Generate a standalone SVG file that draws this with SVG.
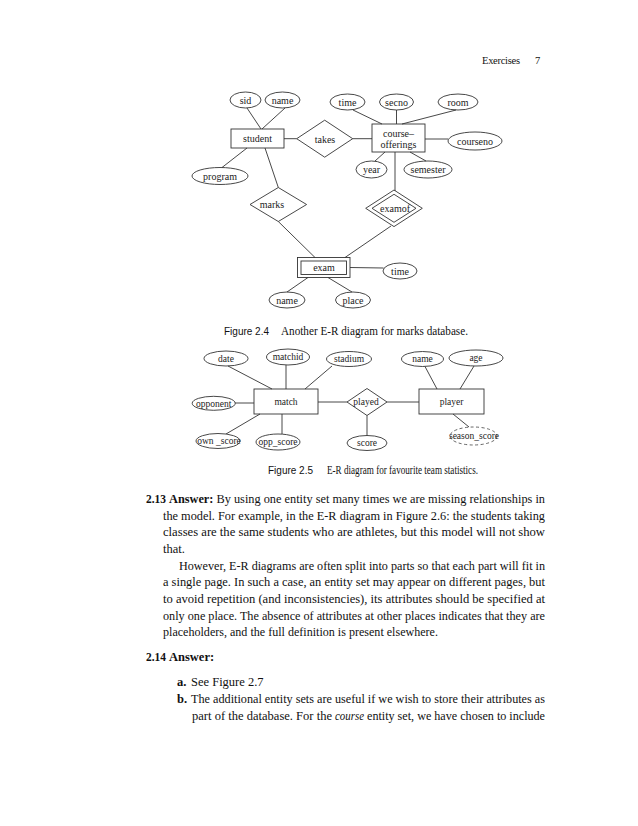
<svg xmlns="http://www.w3.org/2000/svg" width="638" height="826" viewBox="0 0 638 826">
<style>
.bg{fill:#fff}
.sh{fill:none;stroke:#333;stroke-width:0.9}
.dash{fill:none;stroke:#555;stroke-width:0.9;stroke-dasharray:3 2.5}
.ln{stroke:#333;stroke-width:0.9;fill:none}
.lb{font-family:"Liberation Serif","Times New Roman",serif;font-size:10px;fill:#222;text-anchor:middle}
.lb2{font-family:"Liberation Serif","Times New Roman",serif;font-size:9.5px;fill:#222;text-anchor:middle}
.cap{font-family:"Liberation Sans",Arial,sans-serif;font-size:10px;fill:#111}
.capt{font-family:"Liberation Serif","Times New Roman",serif;font-size:11.5px;fill:#111}
.hd{font-family:"Liberation Serif","Times New Roman",serif;font-size:10.5px;fill:#111}
.bt{font-family:"Liberation Serif","Times New Roman",serif;font-size:12.5px;fill:#111}
.b{font-weight:bold}
</style>
<rect class="bg" x="0" y="0" width="638" height="826"/>
<text class="hd" x="482" y="64" textLength="38">Exercises</text>
<text class="hd" x="535" y="64">7</text>

<g id="connectors">
<line class="ln" x1="247" y1="108" x2="261" y2="129"/>
<line class="ln" x1="285" y1="108" x2="262" y2="129"/>
<line class="ln" x1="284" y1="138.7" x2="296.7" y2="138.7"/>
<line class="ln" x1="352.7" y1="138.7" x2="372" y2="138.7"/>
<line class="ln" x1="247" y1="148" x2="222" y2="167.5"/>
<line class="ln" x1="265" y1="148" x2="278.3" y2="187.5"/>
<line class="ln" x1="353" y1="110" x2="382" y2="124"/>
<line class="ln" x1="396.5" y1="110" x2="396.5" y2="124"/>
<line class="ln" x1="456" y1="110" x2="402" y2="124"/>
<line class="ln" x1="425" y1="139" x2="448" y2="139"/>
<line class="ln" x1="385" y1="152" x2="375" y2="161"/>
<line class="ln" x1="410" y1="152" x2="426" y2="161"/>
<line class="ln" x1="395" y1="152" x2="395" y2="191"/>
<line class="ln" x1="278.3" y1="221.5" x2="315" y2="257.5"/>
<line class="ln" x1="391" y1="226" x2="345" y2="257.5"/>
<line class="ln" x1="350" y1="267.5" x2="383.5" y2="268"/>
<line class="ln" x1="308" y1="277.5" x2="287" y2="292"/>
<line class="ln" x1="328" y1="277.5" x2="352" y2="292"/>

<line class="ln" x1="228" y1="366" x2="272" y2="389"/>
<line class="ln" x1="286" y1="365" x2="286" y2="389"/>
<line class="ln" x1="332" y1="366" x2="305" y2="389"/>
<line class="ln" x1="235" y1="403" x2="254" y2="403"/>
<line class="ln" x1="226" y1="434" x2="260" y2="414"/>
<line class="ln" x1="282" y1="414" x2="282" y2="434"/>
<line class="ln" x1="318" y1="402" x2="347" y2="402"/>
<line class="ln" x1="387" y1="402" x2="419" y2="402"/>
<line class="ln" x1="367" y1="415.5" x2="367" y2="435.5"/>
<line class="ln" x1="425" y1="366.5" x2="437" y2="389"/>
<line class="ln" x1="474" y1="366" x2="460" y2="389"/>
<line class="ln" x1="453" y1="414" x2="469" y2="427"/>
</g>

<!-- Figure 2.4 -->
<g id="sid"><ellipse class="sh" cx="245.5" cy="100" rx="15.5" ry="8"/><text class="lb" x="245.5" y="103.5">sid</text></g>
<g id="student_name"><ellipse class="sh" cx="282.5" cy="100" rx="17.5" ry="8"/><text class="lb" x="282.5" y="103.5">name</text></g>
<g id="co_time"><ellipse class="sh" cx="347.5" cy="102" rx="17.5" ry="8"/><text class="lb" x="347.5" y="105.5">time</text></g>
<g id="secno"><ellipse class="sh" cx="396.5" cy="102" rx="17" ry="8"/><text class="lb" x="396.5" y="105.5">secno</text></g>
<g id="room"><ellipse class="sh" cx="458" cy="102" rx="20" ry="8"/><text class="lb" x="458" y="105.5">room</text></g>
<g id="student"><rect class="sh" x="231" y="129" width="53" height="19"/><text class="lb" x="257.5" y="142">student</text></g>
<g id="takes"><polygon class="sh" points="296.7,138.7 324.7,120.2 352.7,138.7 324.7,157.2"/><text class="lb" x="325" y="142.5">takes</text></g>
<g id="course_offerings"><rect class="sh" x="372" y="124" width="53" height="28"/><text class="lb" x="398.5" y="136.5">course–</text><text class="lb" x="398.5" y="148">offerings</text></g>
<g id="courseno"><ellipse class="sh" cx="475" cy="141" rx="27" ry="9"/><text class="lb" x="475" y="144.5">courseno</text></g>
<g id="program"><ellipse class="sh" cx="220" cy="176" rx="28" ry="8.5"/><text class="lb" x="220" y="179.5">program</text></g>
<g id="year"><ellipse class="sh" cx="371.5" cy="169.5" rx="15.5" ry="8.5"/><text class="lb" x="371.5" y="173">year</text></g>
<g id="semester"><ellipse class="sh" cx="428" cy="169.5" rx="24" ry="8.5"/><text class="lb" x="428" y="173">semester</text></g>
<g id="marks"><polygon class="sh" points="250,204.5 278.3,187.5 306.6,204.5 278.3,221.5"/><text class="lb" x="272" y="207.5">marks</text></g>
<g id="examof"><polygon class="sh" points="365.7,208.3 394,190 422.3,208.3 394,226.6"/><polygon class="sh" points="372,208.3 394,194.3 416,208.3 394,222.3"/><text class="lb" x="395" y="211.5">examof</text></g>
<g id="exam"><rect class="sh" x="297.5" y="257.5" width="52.5" height="20"/><rect class="sh" x="301" y="261" width="45.5" height="13.5"/><text class="lb" x="324" y="271">exam</text></g>
<g id="exam_time"><ellipse class="sh" cx="400" cy="271" rx="17" ry="8"/><text class="lb" x="400" y="274.5">time</text></g>
<g id="exam_name"><ellipse class="sh" cx="287" cy="300" rx="18" ry="8"/><text class="lb" x="287" y="303.5">name</text></g>
<g id="place"><ellipse class="sh" cx="353" cy="300" rx="17.5" ry="8"/><text class="lb" x="353" y="303.5">place</text></g>

<text class="cap" x="224" y="334.5">Figure 2.4</text>
<text class="capt" x="281" y="334.5" textLength="187" lengthAdjust="spacingAndGlyphs">Another E-R diagram for marks database.</text>

<!-- Figure 2.5 -->
<g id="date"><ellipse class="sh" cx="226" cy="358.5" rx="22" ry="7.5"/><text class="lb2" x="226" y="361.8">date</text></g>
<g id="matchid"><ellipse class="sh" cx="288" cy="357" rx="21.5" ry="8"/><text class="lb2" x="288" y="360.3">matchid</text></g>
<g id="stadium"><ellipse class="sh" cx="349" cy="359" rx="22.5" ry="7.5"/><text class="lb2" x="349" y="362.3">stadium</text></g>
<g id="player_name"><ellipse class="sh" cx="422.5" cy="359" rx="21" ry="7.5"/><text class="lb2" x="422.5" y="362.3">name</text></g>
<g id="age"><ellipse class="sh" cx="476" cy="358" rx="27" ry="8"/><text class="lb2" x="476" y="361.3">age</text></g>
<g id="match"><rect class="sh" x="254" y="389" width="64" height="25"/><text class="lb2" x="286" y="405">match</text></g>
<g id="played"><polygon class="sh" points="347,402 367,388.5 387,402 367,415.5"/><text class="lb2" x="366" y="405">played</text></g>
<g id="player"><rect class="sh" x="419" y="389" width="65" height="25"/><text class="lb2" x="451.5" y="405">player</text></g>
<g id="opponent"><ellipse class="sh" cx="213.7" cy="403.3" rx="21.5" ry="7"/><text class="lb2" x="213.7" y="406.6">opponent</text></g>
<g id="own_score"><ellipse class="sh" cx="218" cy="441" rx="22" ry="7.5"/><text class="lb2" x="219" y="444.3">own _score</text></g>
<g id="opp_score"><ellipse class="sh" cx="278" cy="442" rx="22" ry="8"/><text class="lb2" x="278" y="445.3">opp_score</text></g>
<g id="score"><ellipse class="sh" cx="367" cy="443" rx="20" ry="7.5"/><text class="lb2" x="367" y="446.3">score</text></g>
<g id="season_score"><ellipse class="dash" cx="473.5" cy="436" rx="23.5" ry="9"/><text class="lb2" x="474" y="439.3">season_score</text></g>

<text class="cap" x="268" y="474">Figure 2.5</text>
<text class="capt" x="327" y="474" textLength="151" lengthAdjust="spacingAndGlyphs">E-R diagram for favourite team statistics.</text>

<!-- Body text -->
<g id="body">
<text class="bt b" x="146" y="503" textLength="20" lengthAdjust="spacingAndGlyphs">2.13</text>
<text class="bt" x="169" y="503" textLength="376" lengthAdjust="spacingAndGlyphs"><tspan class="b">Answer:</tspan> By using one entity set many times we are missing relationships in</text>
<text class="bt" x="163" y="520" textLength="382" lengthAdjust="spacingAndGlyphs">the model. For example, in the E-R diagram in Figure  2.6: the students taking</text>
<text class="bt" x="163" y="536" textLength="382" lengthAdjust="spacingAndGlyphs">classes are the same students who are athletes, but this model will not show</text>
<text class="bt" x="163" y="553">that.</text>
<text class="bt" x="179" y="570" textLength="366" lengthAdjust="spacingAndGlyphs">However, E-R diagrams are often split into parts so that each part will fit in</text>
<text class="bt" x="163" y="586" textLength="382" lengthAdjust="spacingAndGlyphs">a single page. In such a case, an entity set may appear on different pages, but</text>
<text class="bt" x="163" y="603" textLength="382" lengthAdjust="spacingAndGlyphs">to avoid repetition (and inconsistencies), its attributes should be specified at</text>
<text class="bt" x="163" y="620" textLength="382" lengthAdjust="spacingAndGlyphs">only one place. The absence of attributes at other places indicates that they are</text>
<text class="bt" x="163" y="636" textLength="275" lengthAdjust="spacingAndGlyphs">placeholders, and the full definition is present elsewhere.</text>
<text class="bt b" x="146" y="661" textLength="20" lengthAdjust="spacingAndGlyphs">2.14</text>
<text class="bt b" x="169" y="661">Answer:</text>
<text class="bt b" x="177" y="686">a.</text>
<text class="bt" x="191" y="686">See Figure  2.7</text>
<text class="bt b" x="177" y="703">b.</text>
<text class="bt" x="191" y="703" textLength="354" lengthAdjust="spacingAndGlyphs">The additional entity sets are useful if we wish to store their attributes as</text>
<text class="bt" x="192" y="720" textLength="140" lengthAdjust="spacingAndGlyphs">part of the database. For the</text>
<text class="bt" x="335" y="720" font-style="italic" textLength="29" lengthAdjust="spacingAndGlyphs">course</text>
<text class="bt" x="367" y="720" textLength="178" lengthAdjust="spacingAndGlyphs">entity set, we have chosen to include</text>
</g>
</svg>
